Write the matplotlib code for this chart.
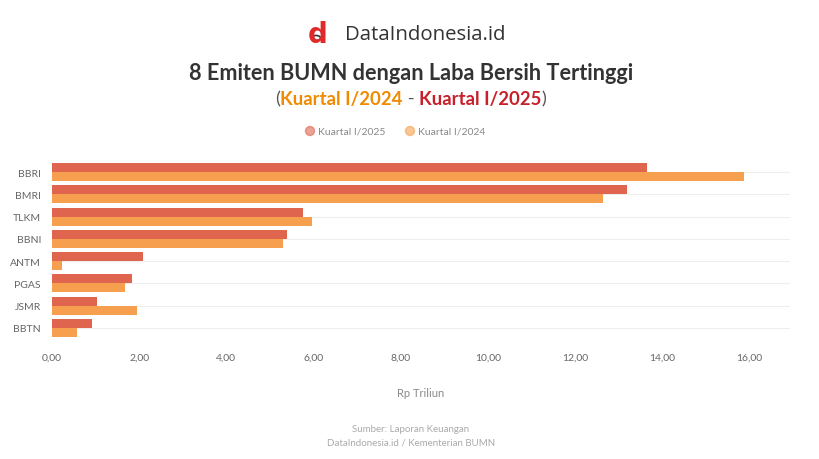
import matplotlib
matplotlib.use("Agg")
import matplotlib.pyplot as plt
import matplotlib.patches as mpatches
import numpy as np

# ---- data ----
categories = ["BBRI", "BMRI", "TLKM", "BBNI", "ANTM", "PGAS", "JSMR", "BBTN"]
q1_2025 = [13.65, 13.19, 5.76, 5.40, 2.08, 1.83, 1.03, 0.92]
q1_2024 = [15.88, 12.64, 5.96, 5.30, 0.24, 1.68, 1.95, 0.57]
series_labels = ["Kuartal I/2025", "Kuartal I/2024"]
xtick_values = [0, 2, 4, 6, 8, 10, 12, 14, 16]
xtick_labels = ["0,00", "2,00", "4,00", "6,00", "8,00", "10,00", "12,00", "14,00", "16,00"]
x_title = "Rp Triliun"
title = "8 Emiten BUMN dengan Laba Bersih Tertinggi"
source_lines = ["Sumber: Laporan Keuangan", "DataIndonesia.id / Kementerian BUMN"]

RED = "#e0654f"
ORANGE = "#f6a04f"
FONT = "Lato"

plt.rcParams["font.family"] = [FONT, "DejaVu Sans"]

W, H = 820, 460
fig = plt.figure(figsize=(W / 100, H / 100), dpi=100)
fig.patch.set_facecolor("white")

ax = fig.add_axes([52 / W, 1 - 340 / H, (790 - 52) / W, (340 - 162) / H])
y = np.arange(len(categories))
bh = 0.41
ax.barh(y - bh / 2, q1_2025, height=bh, color=RED, label=series_labels[0], zorder=3)
ax.barh(y + bh / 2, q1_2024, height=bh, color=ORANGE, label=series_labels[1], zorder=3)
ax.set_ylim(len(categories) - 0.5, -0.5)
ax.set_xlim(0, 16.93)
ax.set_yticks(y)
ax.set_yticklabels(categories, fontsize=7.5, color="#666666")
ax.set_xticks(xtick_values)
ax.set_xticklabels(xtick_labels, fontsize=7.5, color="#666666")
ax.tick_params(axis="y", length=0, pad=8)
ax.tick_params(axis="x", length=0, pad=10)
for s in ax.spines.values():
    s.set_visible(False)
ax.grid(axis="y", color="#eeeeee", linewidth=0.8, zorder=0)
ax.set_xlabel(x_title, fontsize=8, color="#888888", labelpad=18)

# ---- legend ----
leg_y = 1 - 132 / H
items = [(310, RED, series_labels[0]), (410, ORANGE, series_labels[1])]
for xp, col, lab in items:
    fig.patches.append(mpatches.Ellipse((xp / W, leg_y), 9 / W, 9 / H, color=col,
                                        alpha=0.6, transform=fig.transFigure, figure=fig))
    fig.text((xp + 8) / W, leg_y, lab, fontsize=7.5, color="#888888", va="center", ha="left")

# ---- header ----
# logo
fig.text(318 / W, 1 - 35 / H, "d", fontsize=20, fontweight="bold", color="#e02a2a",
         ha="center", va="center", family=["DejaVu Sans"])
fig.patches.append(mpatches.Circle((316 / W, 1 - 39 / H), 4.5 / W, facecolor="white",
                                   edgecolor="#333333", linewidth=1.2,
                                   transform=fig.transFigure, figure=fig))
fig.text(345 / W, 1 - 35 / H, "DataIndonesia.id", fontsize=14.7, color="#333333",
         ha="left", va="center", family=["Open Sans", "DejaVu Sans"])

fig.text(411 / W, 1 - 73 / H, title, fontsize=15.6, fontweight="bold", color="#333333",
         ha="center", va="center")

# subtitle (multi-colour)
parts = [("(", "#555555", "normal"), ("Kuartal I/2024", "#f08a00", "bold"),
         (" - ", "#555555", "normal"), ("Kuartal I/2025", "#c8202a", "bold"),
         (")", "#555555", "normal")]
renderer = fig.canvas.get_renderer()
texts = []
for s, c, w in parts:
    t = fig.text(0, 1 - 99 / H, s, fontsize=13.3, color=c, fontweight=w, ha="left", va="center")
    texts.append(t)
widths = [t.get_window_extent(renderer).width for t in texts]
total = sum(widths)
x0 = 411 - total / 2
for t, w in zip(texts, widths):
    t.set_x(x0 / W)
    x0 += w

# ---- footer ----
fig.text(411 / W, 1 - 430 / H, source_lines[0], fontsize=7, color="#aaaaaa", ha="center", va="center")
fig.text(411 / W, 1 - 443 / H, source_lines[1], fontsize=7, color="#aaaaaa", ha="center", va="center")

fig.savefig("out.png", dpi=100, facecolor="white")
